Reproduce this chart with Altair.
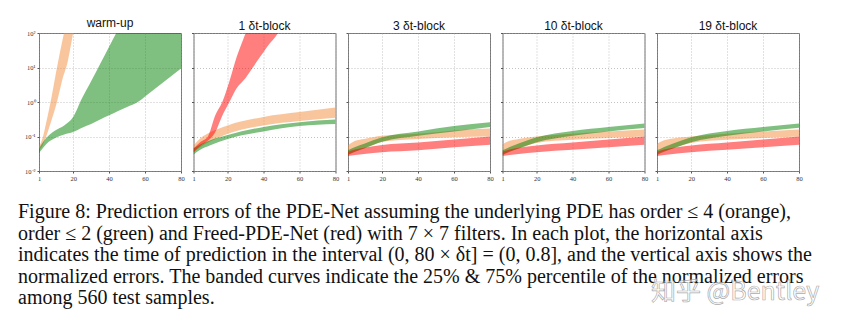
import altair as alt
import pandas as pd

# ---------------- data ----------------
panel_titles = ["warm-up", "1 δt-block", "3 δt-block", "10 δt-block", "19 δt-block"]
series_names = ["orange", "green", "red"]
series_colors = ["#F28C3C", "#008000", "#FF0000"]

# warm-up
wu_orange_x = [1, 3, 5, 8, 11, 14, 17, 20, 23]
wu_orange_lo = [0.04, 0.055, 0.1, 0.3, 1.0, 4.5, 15, 100, 600]
wu_orange_hi = [0.05, 0.09, 0.25, 1.4, 10, 60, 300, 1500, 5000]
wu_green_x = [1, 5, 10, 15, 20, 25, 30, 35, 40, 45, 50, 56, 60, 70, 80]
wu_green_lo = [0.033, 0.06, 0.09, 0.115, 0.135, 0.18, 0.23, 0.31, 0.41, 0.55, 0.72, 1.0, 1.45, 3.7, 9.3]
wu_green_hi = [0.045, 0.09, 0.15, 0.21, 0.37, 1.3, 4, 12.6, 40, 126, 400, 1500, 3000, 10000, 30000]

# 1 dt-block
b1_orange_x = [1, 5, 10, 20, 40, 60, 80]
b1_orange_lo = [0.035, 0.05, 0.07, 0.12, 0.21, 0.28, 0.35]
b1_orange_hi = [0.055, 0.09, 0.13, 0.21, 0.37, 0.51, 0.69]
b1_green_x = [1, 5, 10, 20, 40, 60, 80]
b1_green_lo = [0.03, 0.042, 0.055, 0.085, 0.14, 0.2, 0.23]
b1_green_hi = [0.045, 0.06, 0.077, 0.11, 0.19, 0.26, 0.31]
b1_red_x = [1, 5, 9, 13, 17, 21, 25, 30, 34, 38, 42, 48, 52]
b1_red_lo = [0.035, 0.055, 0.075, 0.13, 0.4, 1.0, 2.5, 5, 10, 20, 40, 100, 250]
b1_red_hi = [0.045, 0.07, 0.1, 0.4, 1.0, 4, 20, 100, 400, 1500, 5000, 20000, 50000]

# 3 dt-block
b3_x = [1, 5, 10, 20, 40, 60, 80]
b3_green_lo = [0.029, 0.036, 0.045, 0.07, 0.105, 0.14, 0.19]
b3_green_hi = [0.04, 0.05, 0.062, 0.095, 0.14, 0.2, 0.26]
b3_orange_lo = [0.03, 0.037, 0.045, 0.07, 0.085, 0.095, 0.1]
b3_orange_hi = [0.055, 0.075, 0.085, 0.105, 0.12, 0.15, 0.17]
b3_red_lo = [0.027, 0.029, 0.031, 0.035, 0.04, 0.049, 0.058]
b3_red_hi = [0.036, 0.042, 0.047, 0.057, 0.067, 0.082, 0.1]

# 10 dt-block
b10_x = [1, 5, 10, 20, 40, 60, 80]
b10_green_lo = [0.029, 0.036, 0.045, 0.068, 0.105, 0.14, 0.175]
b10_green_hi = [0.04, 0.05, 0.063, 0.095, 0.145, 0.19, 0.24]
b10_orange_lo = [0.03, 0.037, 0.045, 0.065, 0.08, 0.09, 0.1]
b10_orange_hi = [0.06, 0.075, 0.085, 0.1, 0.12, 0.14, 0.16]
b10_red_lo = [0.027, 0.029, 0.031, 0.035, 0.041, 0.049, 0.058]
b10_red_hi = [0.036, 0.042, 0.047, 0.055, 0.067, 0.082, 0.1]

# 19 dt-block
b19_x = [1, 5, 10, 20, 40, 60, 80]
b19_green_lo = [0.029, 0.036, 0.045, 0.068, 0.105, 0.14, 0.18]
b19_green_hi = [0.04, 0.05, 0.063, 0.095, 0.145, 0.19, 0.24]
b19_orange_lo = [0.032, 0.038, 0.046, 0.065, 0.08, 0.09, 0.1]
b19_orange_hi = [0.062, 0.078, 0.088, 0.1, 0.12, 0.14, 0.16]
b19_red_lo = [0.027, 0.029, 0.031, 0.035, 0.041, 0.049, 0.058]
b19_red_hi = [0.036, 0.042, 0.047, 0.055, 0.067, 0.082, 0.1]

x_ticks = [1, 20, 40, 60, 80]
y_ticks = [0.01, 0.1, 1, 10, 100]

caption_lines = [
    "Figure 8: Prediction errors of the PDE-Net assuming the underlying PDE has order ≤ 4 (orange),",
    "order ≤ 2 (green) and Freed-PDE-Net (red) with 7 × 7 filters.  In each plot, the horizontal axis",
    "indicates the time of prediction in the interval (0, 80 × δt] = (0, 0.8], and the vertical axis shows the",
    "normalized errors. The banded curves indicate the 25% & 75% percentile of the normalized errors",
    "among 560 test samples.",
]
watermark = "知乎 @Bentley"

panels_data = [
    [("orange", wu_orange_x, wu_orange_lo, wu_orange_hi),
     ("green", wu_green_x, wu_green_lo, wu_green_hi)],
    [("orange", b1_orange_x, b1_orange_lo, b1_orange_hi),
     ("green", b1_green_x, b1_green_lo, b1_green_hi),
     ("red", b1_red_x, b1_red_lo, b1_red_hi)],
    [("orange", b3_x, b3_orange_lo, b3_orange_hi),
     ("green", b3_x, b3_green_lo, b3_green_hi),
     ("red", b3_x, b3_red_lo, b3_red_hi)],
    [("orange", b10_x, b10_orange_lo, b10_orange_hi),
     ("green", b10_x, b10_green_lo, b10_green_hi),
     ("red", b10_x, b10_red_lo, b10_red_hi)],
    [("orange", b19_x, b19_orange_lo, b19_orange_hi),
     ("green", b19_x, b19_green_lo, b19_green_hi),
     ("red", b19_x, b19_red_lo, b19_red_hi)],
]

label_expr = ("datum.value >= 99 ? '10²' : datum.value >= 9 ? '10¹' : datum.value >= 0.9 ? '10⁰' : "
              "datum.value >= 0.09 ? '10⁻¹' : '10⁻²'")

W, H = 142, 138
CAP_W, CAP_H = 790, 110


def make_panel(i):
    rows = []
    for name, xs, los, his in panels_data[i]:
        for xv, lo, hi in zip(xs, los, his):
            rows.append({"series": name, "x": xv, "lo": lo, "hi": hi,
                         "order": series_names.index(name)})
    df = pd.DataFrame(rows)
    first = i == 0
    xaxis = alt.Axis(values=x_ticks, title=None, grid=True, gridDash=[1, 2], gridColor="#9a9a9a",
                     gridWidth=0.6, domain=False, tickSize=2, tickColor="#555",
                     labelFont="Liberation Serif", labelFontSize=6.5, labelColor="#333",
                     labelPadding=2, labelFlush=False)
    yaxis = alt.Axis(values=y_ticks, title=None, grid=True, gridDash=[1, 2], gridColor="#9a9a9a",
                     gridWidth=0.6, domain=False, tickSize=2, tickColor="#555",
                     labels=first, labelExpr=label_expr, labelFont="Liberation Serif",
                     labelFontSize=6.5, labelColor="#333", labelPadding=2)
    area = alt.Chart(df).mark_area(clip=True, opacity=0.5, interpolate="monotone").encode(
        x=alt.X("x:Q", scale=alt.Scale(domain=[1, 80], nice=False, zero=False), axis=xaxis),
        y=alt.Y("lo:Q", scale=alt.Scale(type="log", domain=[0.01, 100], nice=False), axis=yaxis),
        y2="hi:Q",
        color=alt.Color("series:N", scale=alt.Scale(domain=series_names, range=series_colors),
                        legend=None),
        order=alt.Order("order:Q"),
    )
    return area.properties(
        width=W, height=H,
        title=alt.TitleParams(panel_titles[i], font="Liberation Sans", fontSize=12,
                              fontWeight="normal", offset=0, color="#111"),
    )


cap_df = pd.DataFrame({"i": list(range(len(caption_lines))), "line": caption_lines})
caption_text = alt.Chart(cap_df).mark_text(
    font="Liberation Serif", fontSize=20, color="#111", align="left", baseline="alphabetic",
).encode(
    text="line:N",
    x=alt.value(-21),
    y=alt.Y("i:Q", scale=alt.Scale(domain=[0, 4], range=[15, 101]), axis=None),
)
wm = alt.Chart(pd.DataFrame({"t": [watermark]})).mark_text(
    font="Noto Sans CJK SC", fontSize=25, fill="#ffffff", fillOpacity=0.55,
    stroke="#9a9a9a", strokeWidth=0.7, strokeOpacity=0.85,
    align="left", baseline="middle",
).encode(text="t:N", x=alt.value(612), y=alt.value(89))
caption = alt.layer(caption_text, wm).properties(
    width=CAP_W, height=CAP_H, view=alt.ViewConfig(stroke="transparent"))

panels = alt.hconcat(*[make_panel(i) for i in range(5)], spacing=12.5, bounds="flush")

chart = alt.vconcat(panels, caption, spacing=19).properties(
    padding={"left": 17, "top": 16, "right": 0, "bottom": 0},
).configure_view(stroke="#777", strokeWidth=1)

chart.save("out.html", embed_options={"renderer": "svg", "actions": False})
